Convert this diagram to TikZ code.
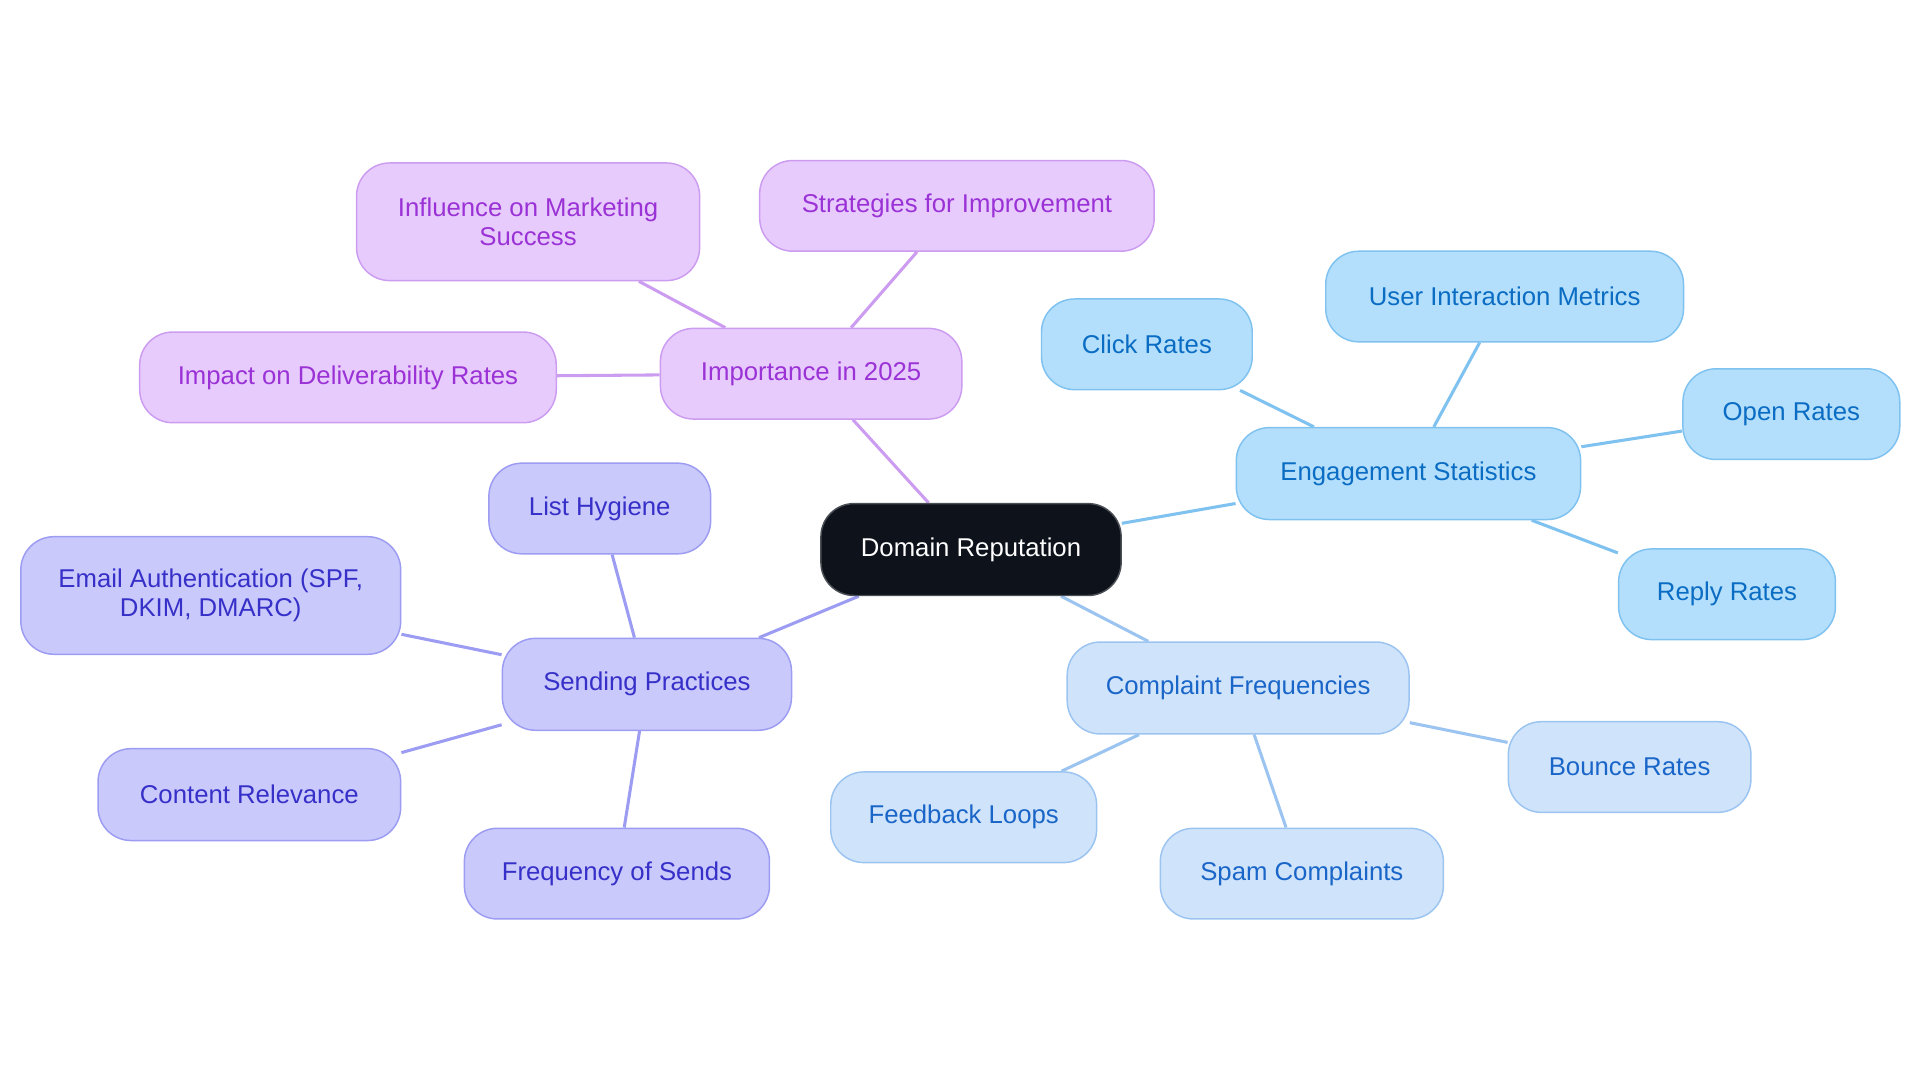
\documentclass[tikz,border=0pt]{standalone}
\usepackage{fontspec}
\setmainfont{Liberation Sans}
\usetikzlibrary{backgrounds}
\definecolor{pfill}{HTML}{E8CBFD}
\definecolor{pline}{HTML}{CC9CF0}
\definecolor{ptext}{HTML}{9A32D6}
\definecolor{efill}{HTML}{B3DFFC}
\definecolor{eline}{HTML}{7FC2F0}
\definecolor{etext}{HTML}{0A6CC2}
\definecolor{cfill}{HTML}{CFE3FB}
\definecolor{cline}{HTML}{9CC4F0}
\definecolor{ctext}{HTML}{1A66C8}
\definecolor{sfill}{HTML}{C9C9FC}
\definecolor{sline}{HTML}{9C9CF2}
\definecolor{stext}{HTML}{3730C8}
\definecolor{rootfill}{HTML}{0D121B}
\definecolor{rootline}{HTML}{4A4E55}
\begin{document}
\begin{tikzpicture}[x=1pt,y=-1pt,
  base/.style={rounded corners=27pt, line width=1.2pt, font=\fontsize{21}{24}\selectfont, minimum height=74pt, inner sep=0pt, align=center},
  rootnode/.style={base, fill=rootfill, draw=rootline, text=white, minimum height=75pt},
  pnode/.style={base, fill=pfill, draw=pline, text=ptext},
  enode/.style={base, fill=efill, draw=eline, text=etext},
  cnode/.style={base, fill=cfill, draw=cline, text=ctext},
  snode/.style={base, fill=sfill, draw=sline, text=stext},
  pedge/.style={draw=pline, line width=2.5pt},
  eedge/.style={draw=eline, line width=2.5pt},
  cedge/.style={draw=cline, line width=2.5pt},
  sedge/.style={draw=sline, line width=2.5pt}
]
\useasboundingbox (0,0) rectangle (1567,884);

\node[rootnode, minimum width=245pt] (root) at (792.5,448.5) {Domain Reputation};

\node[pnode, minimum width=246pt] (imp) at (662,305) {Importance in 2025};
\node[pnode, minimum width=280pt, minimum height=96pt] (infl) at (431,181) {Influence on Marketing\\Success};
\node[pnode, minimum width=322pt] (strat) at (781,168) {Strategies for Improvement};
\node[pnode, minimum width=340pt] (impact) at (284,308) {Impact on Deliverability Rates};

\node[enode, minimum width=281pt, minimum height=75pt] (eng) at (1149.5,386.5) {Engagement Statistics};
\node[enode, minimum width=292pt] (uim) at (1228,242) {User Interaction Metrics};
\node[enode, minimum width=172pt] (click) at (936,281) {Click Rates};
\node[enode, minimum width=177pt] (open) at (1462,338) {Open Rates};
\node[enode, minimum width=177pt] (reply) at (1409.5,485) {Reply Rates};

\node[cnode, minimum width=279pt, minimum height=75pt] (comp) at (1010.5,561.5) {Complaint Frequencies};
\node[cnode, minimum width=198pt] (bounce) at (1330,626) {Bounce Rates};
\node[cnode, minimum width=217pt] (feed) at (786.5,667) {Feedback Loops};
\node[cnode, minimum width=231pt] (spam) at (1062.5,713) {Spam Complaints};

\node[snode, minimum width=236pt, minimum height=75pt] (send) at (528,558.5) {Sending Practices};
\node[snode, minimum width=181pt] (list) at (489.5,415) {List Hygiene};
\node[snode, minimum width=310pt, minimum height=96pt] (auth) at (172,486) {Email Authentication (SPF,\\DKIM, DMARC)};
\node[snode, minimum width=247pt, minimum height=75pt] (content) at (203.5,648.5) {Content Relevance};
\node[snode, minimum width=249pt] (freq) at (503.5,713) {Frequency of Sends};

\begin{pgfonlayer}{background}
\draw[pedge] (root) -- (imp);
\draw[pedge] (imp) -- (infl);
\draw[pedge] (imp) -- (strat);
\draw[pedge] (imp) -- (impact);
\draw[eedge] (root) -- (eng);
\draw[eedge] (eng) -- (uim);
\draw[eedge] (eng) -- (click);
\draw[eedge] (eng) -- (open);
\draw[eedge] (eng) -- (reply);
\draw[cedge] (root) -- (comp);
\draw[cedge] (comp) -- (bounce);
\draw[cedge] (comp) -- (feed);
\draw[cedge] (comp) -- (spam);
\draw[sedge] (root) -- (send);
\draw[sedge] (send) -- (list);
\draw[sedge] (send) -- (auth);
\draw[sedge] (send) -- (content);
\draw[sedge] (send) -- (freq);
\end{pgfonlayer}
\end{tikzpicture}
\end{document}
